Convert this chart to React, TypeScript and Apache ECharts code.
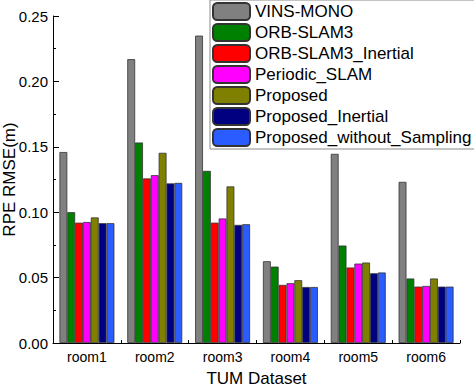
import React, { useEffect, useRef } from "react";
import * as echarts from "echarts";

const categories = ["room1", "room2", "room3", "room4", "room5", "room6"];
const seriesNames = [
  "VINS-MONO",
  "ORB-SLAM3",
  "ORB-SLAM3_Inertial",
  "Periodic_SLAM",
  "Proposed",
  "Proposed_Inertial",
  "Proposed_without_Sampling",
];
const vinsMono = [0.146, 0.217, 0.235, 0.0625, 0.1446, 0.1232];
const orbSlam3 = [0.100, 0.1533, 0.1316, 0.0584, 0.0745, 0.0493];
const orbSlam3Inertial = [0.092, 0.1258, 0.092, 0.0444, 0.0577, 0.0431];
const periodicSlam = [0.0925, 0.1283, 0.0952, 0.0457, 0.0607, 0.0436];
const proposed = [0.096, 0.1454, 0.1197, 0.048, 0.0615, 0.0493];
const proposedInertial = [0.0916, 0.122, 0.0903, 0.0428, 0.0533, 0.0431];
const proposedWithoutSampling = [0.0916, 0.1224, 0.0908, 0.0428, 0.0539, 0.0431];
const seriesData = [
  vinsMono,
  orbSlam3,
  orbSlam3Inertial,
  periodicSlam,
  proposed,
  proposedInertial,
  proposedWithoutSampling,
];
const colors = ["#808080", "#008000", "#ff0000", "#ff00ff", "#808000", "#000080", "#2a5cff"];

const FONT = "'Liberation Sans', Arial, sans-serif";

export default function App() {
  const ref = useRef<HTMLDivElement>(null);
  useEffect(() => {
    if (!ref.current) return;
    const chart = echarts.init(ref.current, null, { renderer: "svg" });
    chart.setOption({
      animation: false,
      textStyle: { fontFamily: FONT },
      grid: { left: 53, right: 14, top: 16, bottom: 44, outerBoundsMode: "none", containLabel: false },
      legend: {
        orient: "vertical",
        left: 210,
        top: 0,
        padding: [2, 14, 2, 2],
        itemWidth: 37,
        itemHeight: 17,
        itemGap: 2,
        borderColor: "#8a8a8a",
        borderWidth: 1,
        backgroundColor: "#ffffff",
        textStyle: { fontSize: 17, color: "#000", fontFamily: FONT },
        data: seriesNames,
      },
      xAxis: {
        type: "category",
        data: categories,
        name: "TUM Dataset",
        nameLocation: "middle",
        nameGap: 27,
        nameMoveOverlap: false,
        nameTextStyle: { fontSize: 17, color: "#000", fontFamily: FONT },
        axisLine: { lineStyle: { color: "#000", width: 1 } },
        axisTick: { show: true, inside: true, length: 3, lineStyle: { color: "#000" } },
        axisLabel: { fontSize: 14, color: "#000", margin: 7, fontFamily: FONT },
      },
      yAxis: {
        type: "value",
        min: 0,
        max: 0.25,
        interval: 0.05,
        name: "RPE RMSE(m)",
        nameLocation: "middle",
        nameGap: 35,
        nameMoveOverlap: false,
        nameTextStyle: { fontSize: 17, color: "#000", fontFamily: FONT },
        axisLine: { show: true, lineStyle: { color: "#000", width: 1 } },
        axisTick: { show: true, inside: true, length: 6, lineStyle: { color: "#000" } },
        minorTick: { show: true, splitNumber: 2, length: 3, lineStyle: { color: "#000" } },
        splitLine: { show: false },
        axisLabel: {
          fontSize: 15,
          color: "#000",
          margin: 5,
          fontFamily: FONT,
          formatter: (v: number) => v.toFixed(2),
        },
      },
      series: seriesNames.map((name, i) => ({
        name,
        type: "bar",
        data: seriesData[i],
        barGap: "0%",
        barCategoryGap: "19%",
        itemStyle: { color: colors[i], borderColor: "#333", borderWidth: 0.8 },
      })),
    });
    return () => chart.dispose();
  }, []);
  return (
    <div
      ref={ref}
      style={{ position: "absolute", left: 0, top: 0, width: 474, height: 387 }}
    />
  );
}
